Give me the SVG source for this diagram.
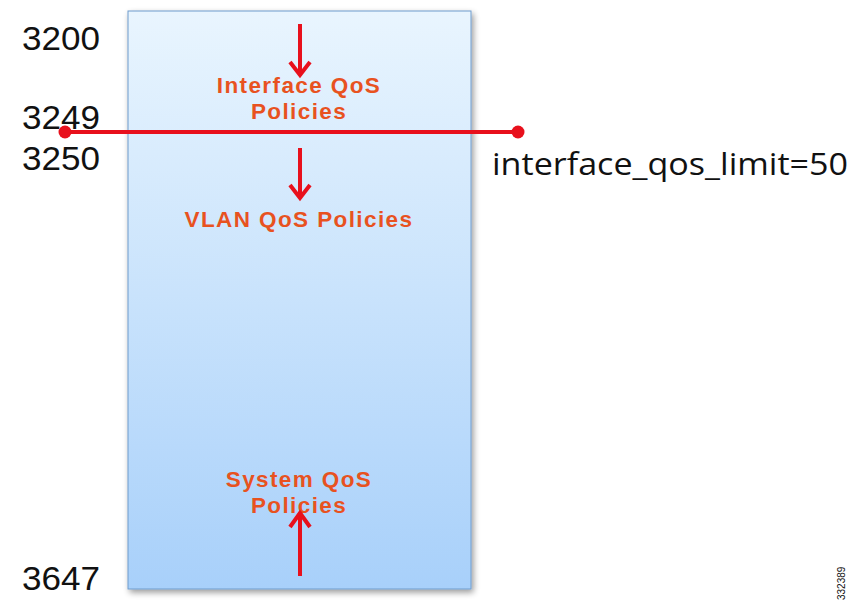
<svg xmlns="http://www.w3.org/2000/svg" width="851" height="610" viewBox="0 0 851 610">
<defs>
<linearGradient id="bg" x1="0" y1="0" x2="0" y2="1">
<stop offset="0" stop-color="#e9f5fe"/>
<stop offset="1" stop-color="#a8d0fa"/>
</linearGradient>
<filter id="sh" x="-10%" y="-10%" width="120%" height="120%">
<feGaussianBlur in="SourceAlpha" stdDeviation="3"/>
<feOffset dx="2" dy="3"/>
<feComponentTransfer><feFuncA type="linear" slope="0.4"/></feComponentTransfer>
<feMerge><feMergeNode/><feMergeNode in="SourceGraphic"/></feMerge>
</filter>
</defs>
<style>
.num{font-family:"Liberation Sans",Arial,sans-serif;font-size:33px;fill:#111}
.lbl{font-family:"Liberation Sans",Arial,sans-serif;font-size:22.5px;font-weight:bold;fill:#e8521f;text-anchor:middle;letter-spacing:1.4px}
.arr{stroke:#e8101c;stroke-width:4;fill:none}
</style>
<rect width="851" height="610" fill="#fff"/>
<g id="box">
<rect x="128" y="11" width="343" height="578" fill="url(#bg)" stroke="#6f9ccc" stroke-width="1" filter="url(#sh)"/>
</g>
<g id="labels">
<text class="num" x="22" y="50" textLength="78" lengthAdjust="spacingAndGlyphs">3200</text>
<text class="num" x="22" y="129" textLength="78" lengthAdjust="spacingAndGlyphs">3249</text>
<text class="num" x="22" y="170" textLength="78" lengthAdjust="spacingAndGlyphs">3250</text>
<text class="num" x="22" y="590" textLength="78" lengthAdjust="spacingAndGlyphs">3647</text>
</g>
<g id="interface">
<text class="lbl" x="299" y="93">Interface QoS</text>
<text class="lbl" x="299" y="119">Policies</text>
</g>
<g id="vlan">
<text class="lbl" x="299" y="227">VLAN QoS Policies</text>
</g>
<g id="system">
<text class="lbl" x="299" y="487">System QoS</text>
<text class="lbl" x="299" y="513">Policies</text>
</g>
<g id="connectors">
<line class="arr" x1="300" y1="24" x2="300" y2="74"/>
<path class="arr" d="M290,62 L300,75 L310,62"/>
<line class="arr" x1="300" y1="148" x2="300" y2="197"/>
<path class="arr" d="M290,185 L300,198 L310,185"/>
<line class="arr" x1="300" y1="576" x2="300" y2="513"/>
<path class="arr" d="M290,527 L300,513 L310,527"/>
<line x1="65" y1="132" x2="518" y2="132" stroke="#e8101c" stroke-width="4"/>
<circle cx="65" cy="132" r="6.5" fill="#e8101c"/>
<circle cx="518" cy="132" r="6.5" fill="#e8101c"/>
</g>
<g id="limit">
<text x="492" y="175" font-family="'Open Sans','Liberation Sans',sans-serif" font-size="31" fill="#111" textLength="356" lengthAdjust="spacingAndGlyphs">interface_qos_limit=50</text>
</g>
<text x="845" y="600" transform="rotate(-90 845 600)" font-family="'Liberation Sans',Arial,sans-serif" font-size="10" fill="#111">332389</text>
</svg>
